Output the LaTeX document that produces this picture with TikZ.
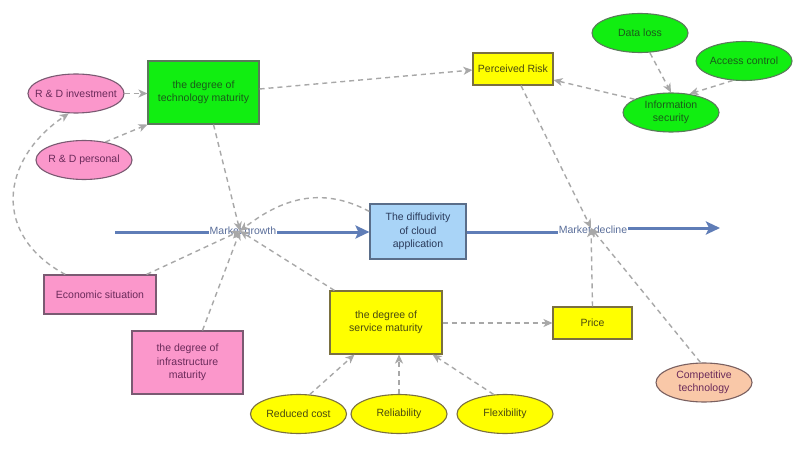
\documentclass[tikz,border=0pt]{standalone}
\usepackage{fontspec}
\setmainfont{Liberation Sans}
\usetikzlibrary{arrows.meta,shapes.geometric}
\definecolor{pinkf}{HTML}{FB97CB}
\definecolor{pinkd}{HTML}{7A5A72}
\definecolor{pinkt}{HTML}{6A2A5A}
\definecolor{greenf}{HTML}{11EE11}
\definecolor{greend}{HTML}{5A7A5A}
\definecolor{greent}{HTML}{1A5A1A}
\definecolor{yelf}{HTML}{FFFF00}
\definecolor{yeld}{HTML}{7A7040}
\definecolor{yelt}{HTML}{4A4A10}
\definecolor{bluef}{HTML}{A9D4F7}
\definecolor{blued}{HTML}{5A6E8A}
\definecolor{bluet}{HTML}{2A3A5A}
\definecolor{peachf}{HTML}{F9C8A8}
\definecolor{peachd}{HTML}{7A6060}
\definecolor{flow}{HTML}{5F7DB7}
\definecolor{flowt}{HTML}{5A6E9A}
\definecolor{conn}{HTML}{A8A8A8}
\tikzset{
  txt/.style={font=\fontsize{10.5}{13.5}\selectfont, align=center, inner sep=0pt},
  rbox/.style={txt, draw, rectangle, line width=1.1pt},
  ebox/.style={txt, draw, ellipse, inner xsep=-11pt, line width=1.1pt, minimum width=96pt, minimum height=39pt},
  pinkn/.style={fill=pinkf, draw=pinkd, text=pinkt},
  greenn/.style={fill=greenf, draw=greend, text=greent},
  yeln/.style={fill=yelf, draw=yeld, text=yelt},
  bluen/.style={fill=bluef, draw=blued, text=bluet},
  peachn/.style={fill=peachf, draw=peachd, text=pinkt},
  link/.style={draw=conn, line width=1.4pt, dash pattern=on 5pt off 4pt, -{Stealth[length=9pt,width=8pt,inset=2.5pt,fill=conn]}},
  flowline/.style={draw=flow, line width=3pt},
  flowhead/.style={-{Stealth[length=14pt,width=13pt,inset=3pt]}},
  flowlbl/.style={font=\fontsize{10.5}{13}\selectfont, text=flowt, fill=white, inner sep=1pt}
}
\begin{document}
\begin{tikzpicture}[x=1pt,y=-1pt]
\useasboundingbox (0,0) rectangle (800,449);
\fill[white] (0,0) rectangle (800,449);

% nodes
\node[rbox,greenn,minimum width=111pt,minimum height=63pt] (tech) at (203.5,92.5) {the degree of\\technology maturity};
\node[ebox,pinkn] (rdi) at (76,93.5) {R \& D investment};
\node[ebox,pinkn] (rdp) at (84,160) {R \& D personal};
\node[rbox,yeln,minimum width=80pt,minimum height=32pt] (risk) at (513,69) {Perceived Risk};
\node[ebox,greenn] (loss) at (640,33) {Data loss};
\node[ebox,greenn] (acc) at (744,61) {Access control};
\node[ebox,greenn] (info) at (671,112.5) {Information\\security};
\node[rbox,bluen,minimum width=96pt,minimum height=55pt] (diff) at (418,231.5) {The diffudivity\\of cloud\\application};
\node[rbox,pinkn,minimum width=112pt,minimum height=39pt] (econ) at (100,294.5) {Economic situation};
\node[rbox,pinkn,minimum width=111pt,minimum height=63pt] (infra) at (187.5,362.5) {the degree of\\infrastructure\\maturity};
\node[rbox,yeln,minimum width=112pt,minimum height=63pt] (serv) at (386,322.5) {the degree of\\service maturity};
\node[rbox,yeln,minimum width=79pt,minimum height=32pt] (price) at (592.5,323) {Price};
\node[ebox,peachn] (comp) at (704,382.5) {Competitive\\technology};
\node[ebox,yeln] (cost) at (298.5,414) {Reduced cost};
\node[ebox,yeln] (rel) at (399,414) {Reliability};
\node[ebox,yeln] (flex) at (505,414) {Flexibility};

% flows
\coordinate (fs) at (115,232);
\coordinate (g) at (240,231);
\coordinate (d) at (591,228);
\coordinate (fe) at (720,228);
\draw[flowline,flowhead] (fs) -- (diff.west |- fs);
\draw[flowline] (diff.east |- fs) -- (d |- fs);
\draw[flowline,flowhead] (d) -- (fe);
\node[flowlbl] (glbl) at (243,232) {Market growth};
\node[flowlbl] (dlbl) at (593,230) {Market decline};

% connectors
\draw[link] (rdi) -- (tech.west |- rdi);
\draw[link] (rdp.40) -- (tech.south west);
\draw[link] (econ.150) .. controls (-8,235) and (0,160) .. (rdi.250);
\draw[link] (tech.east |- 0,89) -- (risk.west |- 0,70);
\draw[link] ([xshift=10pt]tech.south) -- (g);
\draw[link] ([xshift=-10pt]econ.north east) -- (g);
\draw[link] ([xshift=15pt]infra.north) -- (g);
\draw[link] ([xshift=5pt]serv.north west) -- (g);
\draw[link] ([yshift=20pt]diff.west) .. controls (320,185) and (280,200) .. (g);
\draw[link] ([xshift=8pt]risk.south) -- (d);
\draw[link] (info.160) -- (risk.east |- 0,80);
\draw[link] ([xshift=10pt]loss.south) -- (info.north);
\draw[link] (acc.240) -- (info.45);
\draw[link] (price.north) -- (d);
\draw[link] (comp.100) -- (d);
\draw[link] (serv.east |- price) -- (price.west);
\draw[link] (cost.60) -- ([xshift=25pt]serv.south west);
\draw[link] (rel.north) -- (rel.north |- serv.south);
\draw[link] (flex.120) -- ([xshift=-10pt]serv.south east);
\end{tikzpicture}
\end{document}
